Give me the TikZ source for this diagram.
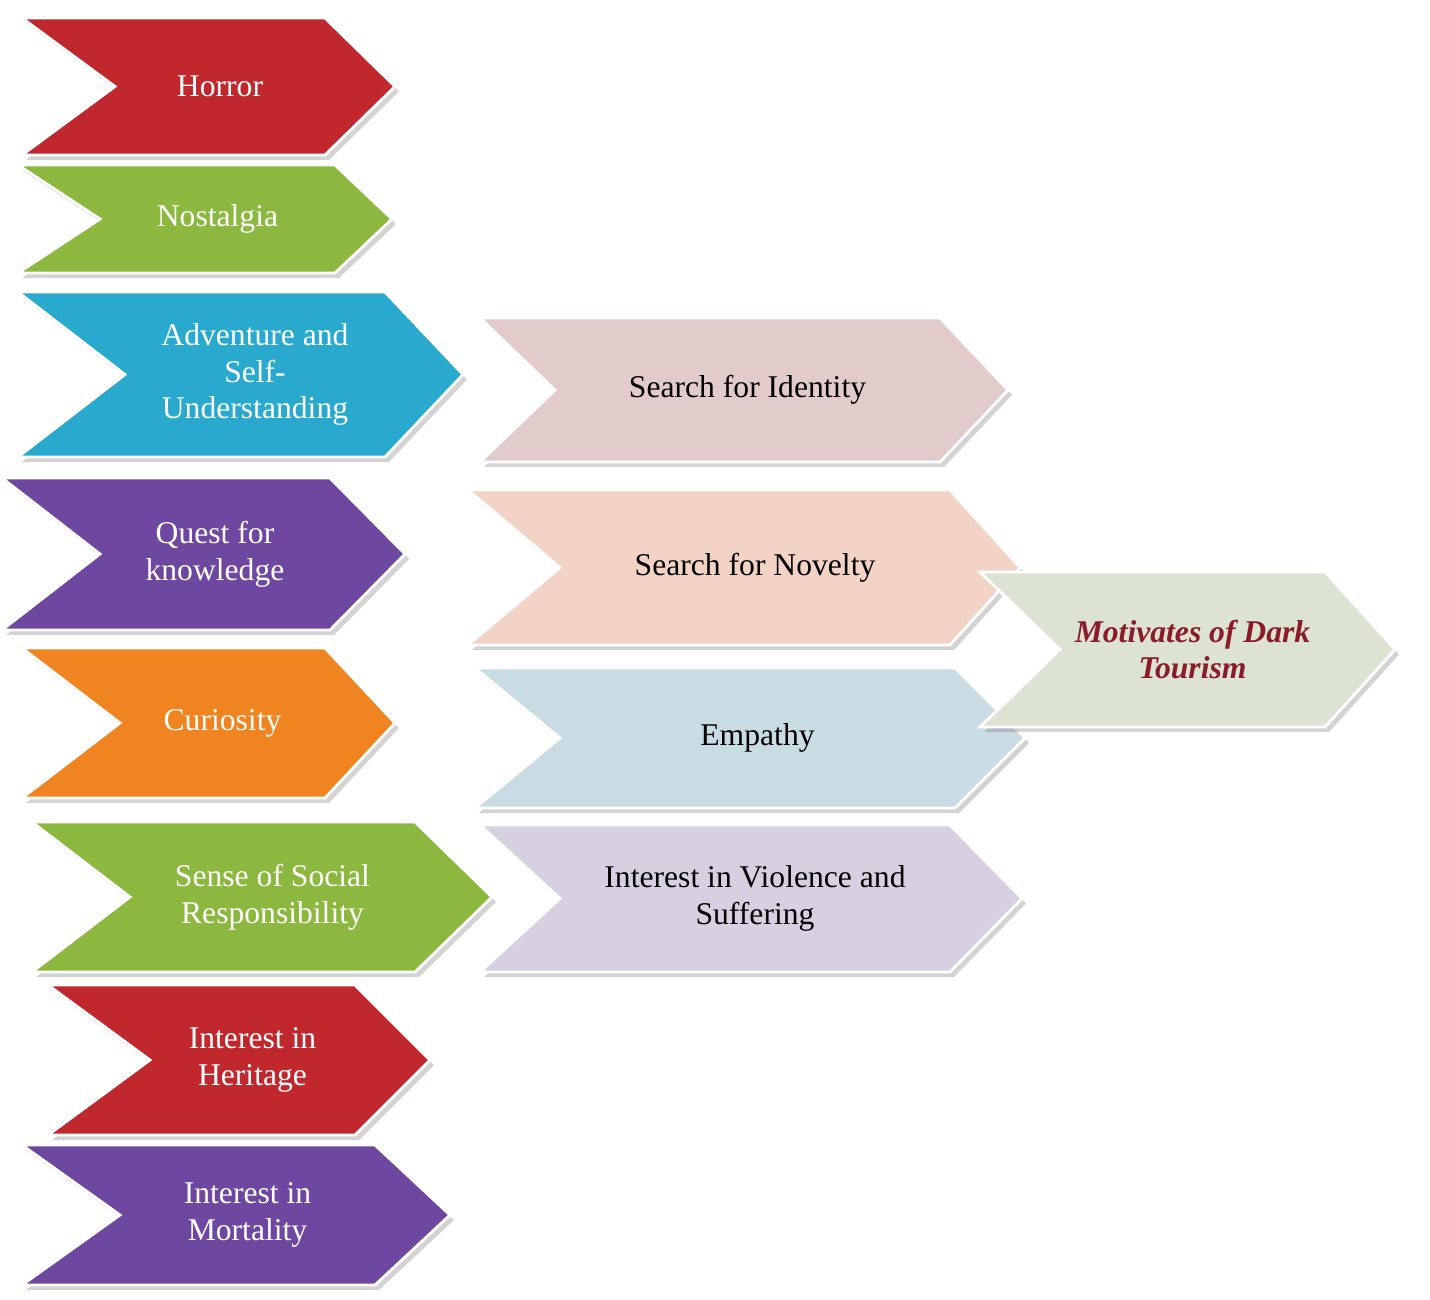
\documentclass[tikz,border=0pt]{standalone}
\usepackage{fontspec}
\setmainfont{Liberation Serif}
\usetikzlibrary{shadows}
\definecolor{cred}{HTML}{C0282E}
\definecolor{cgreen}{HTML}{8DB83F}
\definecolor{cblue}{HTML}{2AA9CF}
\definecolor{cpurple}{HTML}{6E48A0}
\definecolor{corange}{HTML}{EF8420}
\definecolor{cident}{HTML}{E2CBCB}
\definecolor{cnov}{HTML}{F4D3C7}
\definecolor{cemp}{HTML}{C9DCE4}
\definecolor{cviol}{HTML}{D6D0E0}
\definecolor{cmot}{HTML}{DCE3D3}
\definecolor{mottext}{HTML}{8B1A2B}
\tikzset{chev/.style={draw=white,line width=0.8pt,drop shadow={shadow xshift=0.04cm,shadow yshift=-0.05cm,opacity=0.35}},
  lab/.style={font=\fontsize{9}{10.5}\selectfont,align=center,inner sep=0pt}}
% #1 name, #2 left, #3 body end, #4 tip, #5 top, #6 bottom, #7 notch, #8 fill, #9 text
\newcommand\chev[9]{%
  \path[chev,fill=#8] (#2/100,-#5/100) -- (#3/100,-#5/100) -- (#4/100,-#5/200-#6/200) -- (#3/100,-#6/100) -- (#2/100,-#6/100) -- (#7/100,-#5/200-#6/200) -- cycle;
  \node[lab] (#1) at ({(#7+#3)/200},{-(#5+#6)/200}) {#9};}
\begin{document}
\begin{tikzpicture}
\useasboundingbox (0,0) rectangle (14.30,-12.99);
\chev{horror}{22}{325}{395}{18}{155}{115}{cred}{\color{white}Horror}
\chev{nost}{18}{335}{392}{165}{273}{100}{cgreen}{\color{white}Nostalgia}
\chev{adv}{18}{385}{463}{292}{457}{125}{cblue}{\color{white}Adventure and\\\color{white}Self-\\\color{white}Understanding}
\chev{quest}{2}{330}{405}{478}{630}{100}{cpurple}{\color{white}Quest for\\\color{white}knowledge}
\chev{cur}{22}{325}{395}{648}{798}{120}{corange}{\color{white}Curiosity}
\chev{sense}{32}{415}{492}{822}{972}{130}{cgreen}{\color{white}Sense of Social\\\color{white}Responsibility}
\chev{herit}{48}{355}{430}{985}{1135}{150}{cred}{\color{white}Interest in\\\color{white}Heritage}
\chev{mort}{22}{375}{450}{1145}{1285}{120}{cpurple}{\color{white}Interest in\\\color{white}Mortality}
\chev{ident}{480}{940}{1008}{318}{462}{555}{cident}{Search for Identity}
\chev{nov}{468}{950}{1020}{490}{645}{560}{cnov}{Search for Novelty}
\chev{emp}{475}{955}{1025}{668}{808}{560}{cemp}{Empathy}
\chev{viol}{480}{950}{1022}{825}{972}{560}{cviol}{Interest in Violence and\\Suffering}
\chev{mot}{980}{1325}{1395}{572}{727}{1060}{cmot}{\color{mottext}\bfseries\itshape Motivates of Dark\\\color{mottext}\bfseries\itshape Tourism}
\end{tikzpicture}
\end{document}
